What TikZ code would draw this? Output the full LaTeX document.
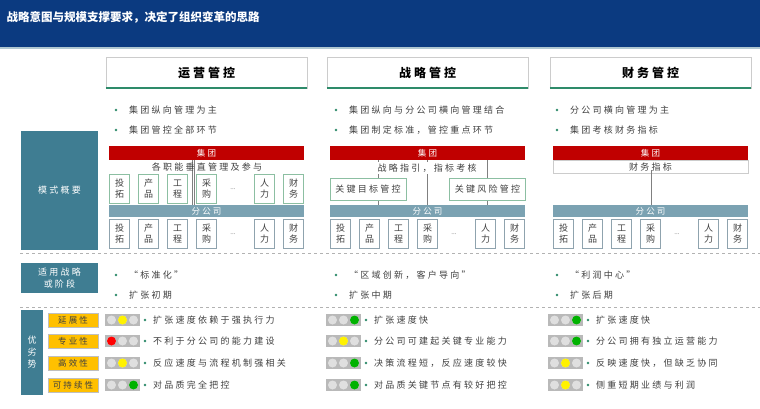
\documentclass[tikz,border=0pt]{standalone}
\usepackage{fontspec}
\setmainfont{Liberation Serif}
\newfontfamily\cjk{Noto Sans CJK SC}
\newfontfamily\cjks[LetterSpace=25]{Noto Sans CJK SC}
\usetikzlibrary{calc}
\definecolor{navy}{HTML}{0B3A80}
\definecolor{teal}{HTML}{3F7D92}
\definecolor{lteal}{HTML}{7BA2B2}
\definecolor{jred}{HTML}{C00000}
\definecolor{gbord}{HTML}{8CBFA2}
\definecolor{bbord}{HTML}{8FA3AE}
\definecolor{dotg}{HTML}{2E8B6A}
\definecolor{lab}{HTML}{FFC000}
\definecolor{txt}{HTML}{404040}
\tikzset{
 hdr/.style={draw=gray!40,fill=white,minimum width=201pt,minimum height=31pt,font=\cjks\fontsize{12}{12}\selectfont\bfseries,text=black},
 bartxt/.style={font=\cjks\fontsize{8.5}{8.5}\selectfont,text=white},
 fbox/.style={draw=#1,line width=1pt,fill=white,minimum width=20pt,minimum height=29pt,inner sep=0pt,font=\cjk\fontsize{9}{11}\selectfont,text=txt,align=center},
 bul/.style={anchor=west,font=\cjks\fontsize{9}{9}\selectfont,text=txt,inner sep=0pt},
 side/.style={fill=teal,text=white,font=\cjks\fontsize{9}{12}\selectfont,align=center},
 yl/.style={fill=lab,draw=gray!50,minimum width=50pt,minimum height=14pt,inner sep=0pt,font=\cjks\fontsize{8.5}{8.5}\selectfont,text=txt},
 vline/.style={draw=gray,line width=1pt},
 mtxt/.style={font=\cjks\fontsize{9}{9}\selectfont,text=txt},
}
\begin{document}
\begin{tikzpicture}[x=1pt,y=-1pt]
\useasboundingbox (0,0) rectangle (760,409);
\fill[white] (0,0) rectangle (760,409);
\fill[navy] (0,0) rectangle (760,47);
\fill[lteal!60] (0,47) rectangle (760,49);
\node[anchor=west,text=white,font=\cjk\fontsize{11.5}{11.5}\selectfont\bfseries] (title) at (3,17) {战略意图与规模支撑要求，决定了组织变革的思路};
\foreach \n/\x/\t in {h1/206.5/运营管控,h2/427.5/战略管控,h3/650.5/财务管控}{
 \node[hdr] (\n) at (\x,72.5) {\t};
 \draw[dotg,line width=2pt] (\n.south west) -- (\n.south east);
}
\foreach \n/\x/\y/\t in {a1/116/110/集团纵向管理为主,a2/116/130/集团管控全部环节,
 b1/336/110/集团纵向与分公司横向管理结合,b2/336/130/集团制定标准，管控重点环节,
 c1/557/110/分公司横向管理为主,c2/557/130/集团考核财务指标,
 d1/116/275/“标准化”,d2/116/295/扩张初期,
 e1/336/275/“区域创新，客户导向”,e2/336/295/扩张中期,
 f1/557/275/“利润中心”,f2/557/295/扩张后期}{
 \fill[dotg] (\x,\y) circle (1.3);
 \node[bul] (\n) at (\x+13,\y) {\t};
}
\node[side,minimum width=77pt,minimum height=119pt] (s1) at (59.5,190.5) {模式概要};
\node[side,minimum width=77pt,minimum height=30pt,inner sep=0pt] (s2) at (59.5,278) {适用战略\\或阶段};
\node[side,minimum width=22pt,minimum height=85pt,inner sep=0pt] (s3) at (32,352.5) {优\\劣\\势};
\draw[gray!60,dashed,line width=1pt] (20,253) -- (760,253);
\draw[gray!60,dashed,line width=1pt] (20,307) -- (760,307);
\foreach \c/\L in {1/109,2/330,3/553}{
 \fill[jred] (\L,146) rectangle (\L+195,160);
 \node[bartxt] (jt\c) at (\L+97.5,153) {集团};
 \fill[lteal] (\L,205) rectangle (\L+195,217);
 \node[bartxt] (ft\c) at (\L+97.5,211) {分公司};
 \foreach \i/\o/\t in {1/0/投\\拓,2/29/产\\品,3/58/工\\程,4/87/采\\购,5/145/人\\力,6/174/财\\务}{
  \node[fbox=bbord] (b\c\i) at (\L+\o+10.5,234) {\t};
 }
 \node[font=\fontsize{7}{7}\selectfont,text=gray] (bd\c) at (\L+124,234) {...};
}
\foreach \i/\o/\t in {1/0/投\\拓,2/29/产\\品,3/58/工\\程,4/87/采\\购,5/145/人\\力,6/174/财\\务}{
 \node[fbox=gbord] (t\i) at (109+\o+10.5,189) {\t};
}
\node[font=\fontsize{7}{7}\selectfont,text=gray] (td) at (233,189) {...};
\draw[vline,line width=0.6pt] (192,160) -- (192,205);
\draw[vline,line width=0.6pt] (194.5,160) -- (194.5,205);
\node[mtxt,inner sep=1pt] (g1) at (207,167) {各职能垂直管理及参与};
\draw[vline] (378,160) -- (378,205);
\draw[vline] (427,160) -- (427,205);
\draw[vline] (487,160) -- (487,205);
\node[mtxt,fill=white,inner sep=1.5pt] (g2) at (427,168) {战略指引，指标考核};
\node[mtxt,draw=gbord,line width=1pt,fill=white,minimum width=76pt,minimum height=22pt,inner sep=0pt] (k1) at (368,189) {关键目标管控};
\node[mtxt,draw=gbord,line width=1pt,fill=white,minimum width=76pt,minimum height=22pt,inner sep=0pt] (k2) at (487.5,189) {关键风险管控};
\node[mtxt,draw=gray!40,fill=white,minimum width=195pt,minimum height=13pt,inner sep=0pt] (cw) at (650.5,167) {财务指标};
\draw[vline] (651,170) -- (651,205);
\foreach \i/\y/\t in {1/320/延展性,2/341/专业性,3/363/高效性,4/385/可持续性}{
 \node[yl] (y\i) at (73,\y) {\t};
}
\foreach \c/\X in {1/105,2/326,3/548}{
 \foreach \r/\y in {1/320,2/341,3/363,4/385}{
  \fill[gray!55] (\X,\y-6) rectangle (\X+35,\y+6);
  \foreach \k in {0,1,2} \fill[gray!25] (\X+6.5+\k*11,\y) circle (4.5);
 }
}
\newcommand\lite[4]{\fill[#4] (#1+6.5+#3*11,#2) circle (4.5);}
\lite{105}{320}{1}{yellow}\lite{105}{341}{0}{red}\lite{105}{363}{1}{yellow}\lite{105}{385}{2}{green!70!black}
\lite{326}{320}{2}{green!70!black}\lite{326}{341}{1}{yellow}\lite{326}{363}{2}{green!70!black}\lite{326}{385}{2}{green!70!black}
\lite{548}{320}{2}{green!70!black}\lite{548}{341}{2}{green!70!black}\lite{548}{363}{1}{yellow}\lite{548}{385}{1}{yellow}
\foreach \n/\x/\y/\t in {p1/145/320/扩张速度依赖于强执行力,p2/145/341/不利于分公司的能力建设,p3/145/363/反应速度与流程机制强相关,p4/145/385/对品质完全把控,
 q1/366/320/扩张速度快,q2/366/341/分公司可建起关键专业能力,q3/366/363/决策流程短，反应速度较快,q4/366/385/对品质关键节点有较好把控,
 r1/588/320/扩张速度快,r2/588/341/分公司拥有独立运营能力,r3/588/363/反映速度快，但缺乏协同,r4/588/385/侧重短期业绩与利润}{
 \fill[dotg] (\x,\y) circle (1.3);
 \node[bul] (\n) at (\x+8,\y) {\t};
}
\end{tikzpicture}
\end{document}
